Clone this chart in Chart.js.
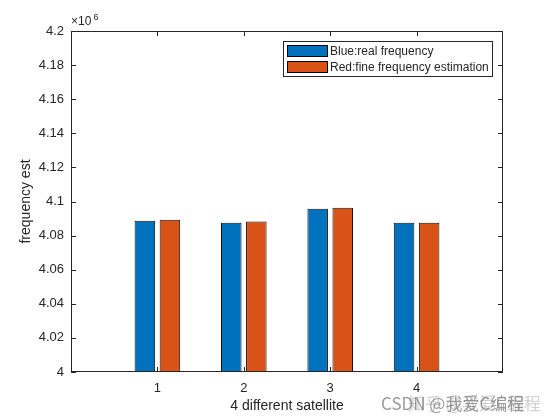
<!DOCTYPE html>
<html>
<head>
<meta charset="utf-8">
<script src="https://cdn.jsdelivr.net/npm/chart.js@4.4.1/dist/chart.umd.min.js"></script>
<style>
  html, body { margin: 0; padding: 0; background: #fff; }
  #freq_chart { display: block; }
</style>
</head>
<body>
<canvas id="freq_chart" width="550" height="419"></canvas>
<script>
// data
const categories = [1, 2, 3, 4];
const realFreq = [4088700, 4087600, 4095700, 4087600];
const estFreq = [4089300, 4088200, 4096300, 4087600];
const yTickValues = [4000000, 4020000, 4040000, 4060000, 4080000, 4100000, 4120000, 4140000, 4160000, 4180000, 4200000];
const seriesNames = ['Blue:real frequency', 'Red:fine frequency estimation'];

const txt = '#262626';
const font = '"Liberation Sans", Arial, sans-serif';

// box with inward ticks, legend, exponent label, watermark
const matlabLook = {
  id: 'matlabLook',
  afterDraw(chart) {
    const c = chart.ctx;
    const a = chart.chartArea;
    const xs = chart.scales.x, ys = chart.scales.y;
    c.save();
    c.strokeStyle = txt;
    c.lineWidth = 1;
    c.strokeRect(a.left + 0.5, a.top + 0.5, a.right - a.left - 1, a.bottom - a.top - 1);
    c.beginPath();
    yTickValues.forEach(v => {
      const y = Math.round(ys.getPixelForValue(v)) + 0.5;
      c.moveTo(a.left, y); c.lineTo(a.left + 5, y);
      c.moveTo(a.right, y); c.lineTo(a.right - 5, y);
    });
    categories.forEach(v => {
      const x = Math.round(xs.getPixelForValue(v)) + 0.5;
      c.moveTo(x, a.bottom); c.lineTo(x, a.bottom - 5);
      c.moveTo(x, a.top); c.lineTo(x, a.top + 5);
    });
    c.stroke();

    // x10^6
    c.fillStyle = txt;
    c.textBaseline = 'alphabetic';
    c.textAlign = 'left';
    c.font = '12px ' + font;
    c.fillText('\u00d710', 71, 25);
    c.font = '9px ' + font;
    c.fillText('6', 93.5, 20);

    // legend
    const lx = 283.5, ly = 41.5, lw = 209, lh = 35;
    c.fillStyle = '#fff';
    c.fillRect(lx, ly, lw, lh);
    c.strokeStyle = txt;
    c.strokeRect(lx, ly, lw, lh);
    const colors = ['#0072BD', '#D95319'];
    c.font = '12px ' + font;
    c.textBaseline = 'middle';
    seriesNames.forEach((n, i) => {
      const ry = 45.5 + i * 16;
      c.fillStyle = colors[i];
      c.fillRect(287.5, ry, 40, 11);
      c.strokeStyle = '#000';
      c.strokeRect(287.5, ry, 40, 11);
      c.fillStyle = txt;
      c.fillText(n, 330, ry + 6);
    });

    // watermark
    c.font = '17px "Noto Sans CJK SC", sans-serif';
    c.fillStyle = 'rgba(150,150,150,0.45)';
    c.fillText('知乎 @我爱C编程', 408, 404);
    c.fillStyle = 'rgba(120,120,120,0.75)';
    c.fillText('CSDN @我爱C编程', 381, 404);
    c.restore();
  }
};

const ctx = document.getElementById('freq_chart');
new Chart(ctx, {
  type: 'bar',
  data: {
    datasets: [
      {
        label: seriesNames[0],
        data: categories.map((c, i) => ({ x: c, y: realFreq[i] })),
        backgroundColor: '#0072BD',
        borderColor: '#111',
        borderWidth: 1
      },
      {
        label: seriesNames[1],
        data: categories.map((c, i) => ({ x: c, y: estFreq[i] })),
        backgroundColor: '#D95319',
        borderColor: '#111',
        borderWidth: 1
      }
    ]
  },
  options: {
    responsive: false,
    animation: false,
    events: [],
    categoryPercentage: 0.58,
    barPercentage: 0.82,
    layout: { padding: { left: 0, top: 31, right: 47, bottom: 0 } },
    plugins: { legend: { display: false }, tooltip: { enabled: false } },
    scales: {
      x: {
        type: 'linear',
        min: 0,
        max: 5,
        offset: false,
        grid: { display: false, drawTicks: false, offset: false },
        border: { display: false },
        afterBuildTicks: s => { s.ticks = categories.map(v => ({ value: v })); },
        afterFit: s => { s.height = 47; },
        ticks: {
          color: txt,
          font: { family: font, size: 13 },
          padding: 9,
          maxRotation: 0,
          callback: v => String(v)
        },
        title: {
          display: true,
          text: '4 different satellite',
          color: txt,
          font: { family: font, size: 14 },
          padding: { top: 0, bottom: 4 }
        }
      },
      y: {
        min: 4000000,
        max: 4200000,
        grid: { display: false, drawTicks: false },
        border: { display: false },
        afterBuildTicks: s => { s.ticks = yTickValues.map(v => ({ value: v })); },
        afterFit: s => { s.width = 71; },
        ticks: {
          color: txt,
          font: { family: font, size: 13 },
          padding: 7,
          callback: v => String(Number((v / 1e6).toFixed(2)))
        },
        title: {
          display: true,
          text: 'frequency est',
          color: txt,
          font: { family: font, size: 14 },
          padding: { top: 18, bottom: 0 }
        }
      }
    }
  },
  plugins: [matlabLook]
});
</script>
</body>
</html>
